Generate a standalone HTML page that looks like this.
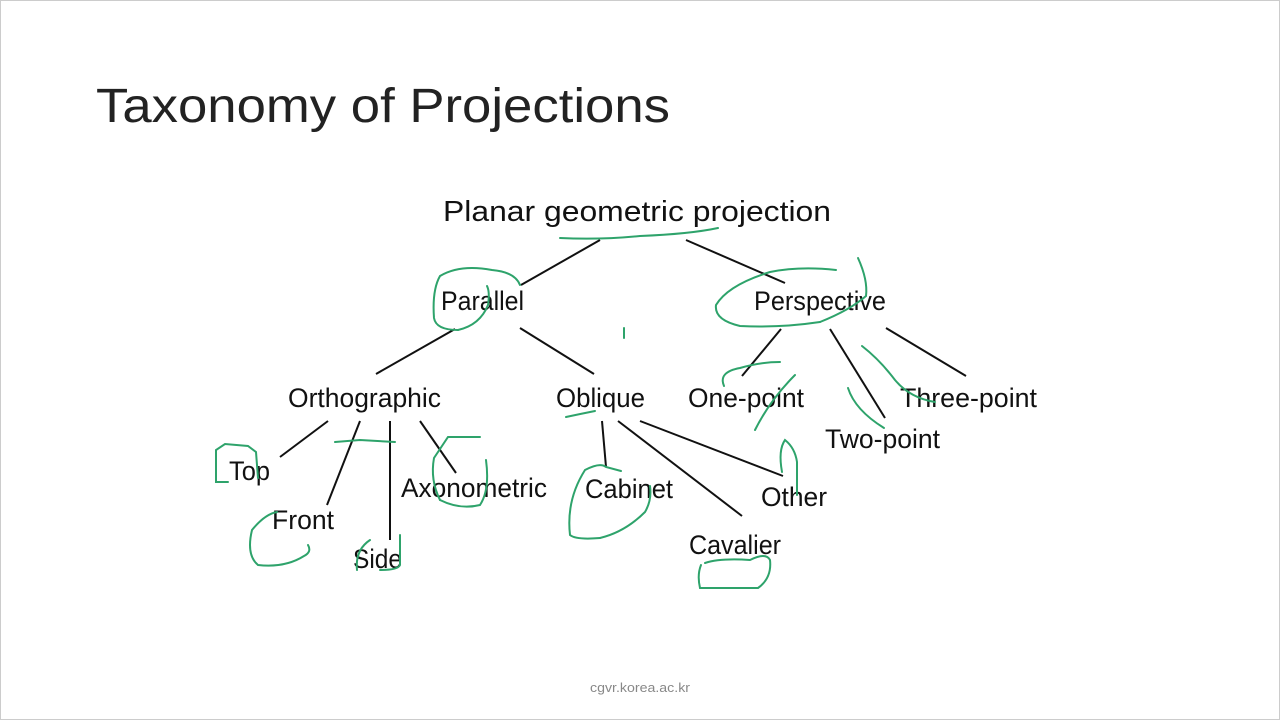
<!DOCTYPE html>
<html><head><style>
html,body{margin:0;padding:0;background:#fff;}
svg{display:block;}
text{font-family:"Liberation Sans",sans-serif;fill:#111;}
</style></head><body>
<svg width="1280" height="720" viewBox="0 0 1280 720" xmlns="http://www.w3.org/2000/svg">
<rect x="0.5" y="0.5" width="1279" height="719" fill="#fff" stroke="#ccc"/>
<text x="96" y="122" font-size="48" textLength="574" lengthAdjust="spacingAndGlyphs" style="fill:#222">Taxonomy of Projections</text>
<g font-size="27">
<text x="443" y="221" font-size="29" textLength="388" lengthAdjust="spacingAndGlyphs">Planar geometric projection</text>
<text x="441" y="310" textLength="83" lengthAdjust="spacingAndGlyphs">Parallel</text>
<text x="754" y="310" textLength="132" lengthAdjust="spacingAndGlyphs">Perspective</text>
<text x="288" y="407" textLength="153" lengthAdjust="spacingAndGlyphs">Orthographic</text>
<text x="556" y="407" textLength="89" lengthAdjust="spacingAndGlyphs">Oblique</text>
<text x="688" y="407" textLength="116" lengthAdjust="spacingAndGlyphs">One-point</text>
<text x="900" y="407" textLength="137" lengthAdjust="spacingAndGlyphs">Three-point</text>
<text x="825" y="448" textLength="115" lengthAdjust="spacingAndGlyphs">Two-point</text>
<text x="229" y="480" textLength="41" lengthAdjust="spacingAndGlyphs">Top</text>
<text x="272" y="529" textLength="62" lengthAdjust="spacingAndGlyphs">Front</text>
<text x="353" y="568" textLength="49" lengthAdjust="spacingAndGlyphs">Side</text>
<text x="401" y="497" textLength="146" lengthAdjust="spacingAndGlyphs">Axonometric</text>
<text x="585" y="498" textLength="88" lengthAdjust="spacingAndGlyphs">Cabinet</text>
<text x="761" y="506" textLength="66" lengthAdjust="spacingAndGlyphs">Other</text>
<text x="689" y="554" textLength="92" lengthAdjust="spacingAndGlyphs">Cavalier</text>
</g>
<text x="590" y="692" font-size="13" style="fill:#888" textLength="100" lengthAdjust="spacingAndGlyphs">cgvr.korea.ac.kr</text>
<g stroke="#111" stroke-width="2" fill="none">
<line x1="600" y1="240" x2="521" y2="285"/>
<line x1="686" y1="240" x2="785" y2="283"/>
<line x1="455" y1="329" x2="376" y2="374"/>
<line x1="520" y1="328" x2="594" y2="374"/>
<line x1="781" y1="329" x2="742" y2="376"/>
<line x1="830" y1="329" x2="885" y2="418"/>
<line x1="886" y1="328" x2="966" y2="376"/>
<line x1="328" y1="421" x2="280" y2="457"/>
<line x1="360" y1="421" x2="327" y2="505"/>
<line x1="390" y1="421" x2="390" y2="540"/>
<line x1="420" y1="421" x2="456" y2="473"/>
<line x1="602" y1="421" x2="606" y2="467"/>
<line x1="618" y1="421" x2="742" y2="516"/>
<line x1="640" y1="421" x2="783" y2="476"/>
</g>
<g stroke="#2ea36b" stroke-width="2" fill="none" stroke-linecap="round">
<path d="M560 238 Q600 240 640 236 Q690 234 718 228"/>
<path d="M458 330 Q436 330 434 318 Q432 290 440 276 Q460 264 492 270 Q515 272 520 285"/>
<path d="M458 330 Q480 325 488 305 Q490 292 487 286"/>
<path d="M820 322 Q780 328 740 326 Q714 320 716 305 Q728 285 770 272 Q800 266 836 270"/>
<path d="M820 322 Q850 310 866 296 Q868 280 858 258"/>
<path d="M724 386 Q718 372 740 368 Q760 362 780 362"/>
<path d="M755 430 Q770 400 795 375"/>
<path d="M848 388 Q855 410 884 428"/>
<path d="M862 346 Q880 360 895 380 Q910 398 935 402"/>
<path d="M228 482 L216 482 L216 450 L225 444 L248 446 L256 452 L258 478"/>
<path d="M335 442 L360 440 L395 442"/>
<path d="M440 500 Q430 480 434 458 L448 437 L480 437"/>
<path d="M440 500 Q460 510 480 505 Q490 490 486 460"/>
<path d="M308 545 Q312 552 304 556 Q285 568 258 565 Q246 555 252 530 Q265 514 277 512"/>
<path d="M357 570 Q355 550 370 540 M380 570 Q398 570 400 565 L400 535"/>
<path d="M566 417 Q580 414 595 411"/>
<path d="M600 538 Q576 540 570 535 Q566 500 585 470 Q600 462 606 467 L621 471"/>
<path d="M600 538 Q625 532 645 512 Q652 500 650 486"/>
<path d="M797 495 L797 462 Q795 448 785 440 Q778 450 782 472"/>
<path d="M701 565 Q697 575 700 588 L758 588 Q772 578 770 560 Q766 552 750 560 Q720 558 705 563"/>
<path d="M624 328 L624 338"/>
</g>
</svg>
</body></html>
